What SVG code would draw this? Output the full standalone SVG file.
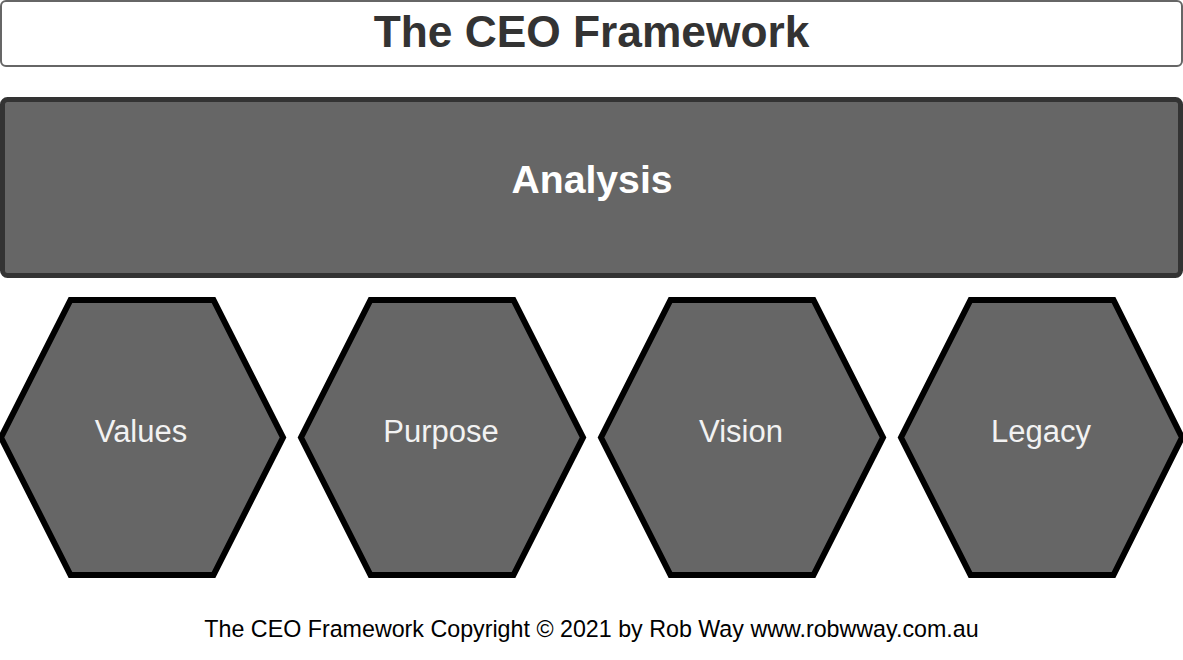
<svg xmlns="http://www.w3.org/2000/svg" width="1183" height="660" viewBox="0 0 1183 660">
<style>
.hex{fill:#666666;stroke:#000000;stroke-width:6;stroke-linejoin:miter}
.hl{font-family:"Liberation Sans",Arial,sans-serif;font-size:31px;fill:#f2f2f2;text-anchor:middle}
</style>
<rect width="1183" height="660" fill="#ffffff"/>
<g id="title">
<rect x="1" y="1" width="1181" height="65" rx="5" fill="#ffffff" stroke="#666666" stroke-width="2"/>
<text x="591.5" y="47" font-family="'Liberation Sans',Arial,sans-serif" font-size="44.3" font-weight="bold" fill="#333333" text-anchor="middle">The CEO Framework</text>
</g>
<g id="analysis">
<rect x="2.5" y="99.5" width="1178" height="176" rx="5" fill="#666666" stroke="#333333" stroke-width="5"/>
<text x="592" y="193" font-family="'Liberation Sans',Arial,sans-serif" font-size="39.2" font-weight="bold" fill="#ffffff" text-anchor="middle">Analysis</text>
</g>
<g id="values">
<polygon class="hex" points="70.5,300 213.5,300 283,437.5 213.5,575 70.5,575 1,437.5"/>
<text class="hl" x="141" y="442">Values</text>
</g>
<g id="purpose">
<polygon class="hex" points="370.5,300 513.5,300 583,437.5 513.5,575 370.5,575 301,437.5"/>
<text class="hl" x="441" y="442">Purpose</text>
</g>
<g id="vision">
<polygon class="hex" points="670.5,300 813.5,300 883,437.5 813.5,575 670.5,575 601,437.5"/>
<text class="hl" x="741" y="442">Vision</text>
</g>
<g id="legacy">
<polygon class="hex" points="970.5,300 1113.5,300 1182,437.5 1113.5,575 970.5,575 901,437.5"/>
<text class="hl" x="1041" y="442">Legacy</text>
</g>
<g id="connectors"></g>
<g id="footer">
<text x="591.5" y="637" font-family="'Liberation Sans',Arial,sans-serif" font-size="23.25" fill="#000000" text-anchor="middle">The CEO Framework Copyright © 2021 by Rob Way www.robwway.com.au</text>
</g>
</svg>
